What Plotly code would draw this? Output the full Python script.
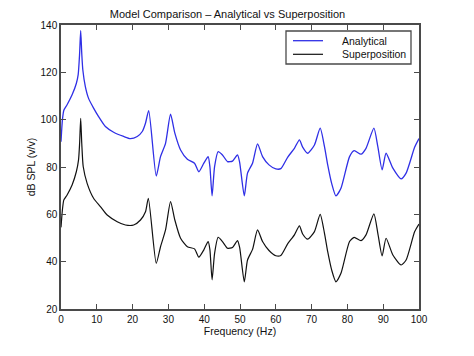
import plotly.graph_objects as go

# ---- data ----
freq_analytical = [0, 0.4, 0.8, 1.7, 3.1, 4.3, 4.8, 5.2, 5.5, 5.8, 6.1, 6.8, 7.7, 9.1, 10.5,
                   12.4, 14.7, 17.5, 19.4, 21.3, 22.7, 23.6, 24.5, 26.6, 27.8, 29.2, 30.6,
                   31.8, 33.4, 35.3, 37.3, 38.5, 39.9, 41.1, 41.6, 42.2, 42.9, 43.9, 45.1,
                   46.5, 47.9, 49.3, 49.9, 51.2, 52.1, 53.5, 54.9, 56.3, 58.1, 60, 61.4,
                   63.3, 65.2, 66.6, 67.5, 68.9, 70.8, 72.4, 73.6, 74.5, 75.6, 76.8, 78.2,
                   80.6, 81.9, 83.8, 85.2, 87.4, 88.5, 89.7, 90.8, 92.7, 95, 96.4, 98.8, 100]
spl_analytical = [90.7, 100, 104, 106.3, 110.5, 115.4, 119, 128, 137.7, 128, 121, 114, 109,
                  104.9, 101.3, 97.1, 94.7, 92.9, 92, 92.9, 95, 98.5, 103.8, 76.2, 84.4, 90,
                  102.3, 94.3, 87.2, 83.3, 81.6, 78, 81.6, 84.4, 80, 67.8, 80.2, 86.5, 85.1,
                  82.3, 82.5, 85.1, 82, 67.8, 77.4, 81.6, 89.8, 84.4, 80.9, 79.2, 79.3, 84.1,
                  87.9, 91.5, 88.4, 85.8, 89.3, 96.4, 88.6, 80.9, 73.1, 67.8, 71, 84.4, 86.9,
                  85.4, 87.9, 96.4, 88.6, 78.8, 85.8, 79.5, 75, 77.4, 88.4, 92]

freq_superposition = [0, 0.4, 0.8, 1.7, 3.1, 4.3, 4.9, 5.2, 5.5, 5.8, 6.2, 7.3, 9.1, 11,
                      12.9, 15.7, 18, 20.3, 22.2, 23.6, 24.4, 26.6, 27.8, 29.2, 30.6, 31.8,
                      33.4, 35.3, 37.3, 38.5, 39.9, 41.1, 41.6, 42.2, 42.9, 43.9, 45.1, 46.5,
                      47.9, 49.3, 49.9, 51.2, 52.1, 53.5, 54.9, 56.3, 58.1, 60, 61.4, 63.3,
                      65.2, 66.6, 67.5, 68.9, 70.8, 72.4, 73.6, 74.5, 75.6, 76.8, 78.2, 80.6,
                      81.9, 83.8, 85.2, 87.4, 88.5, 89.7, 90.8, 92.7, 95, 96.4, 98.8, 100]
spl_superposition = [54.5, 62, 66.1, 68.2, 72.4, 78.1, 83, 90, 100.6, 90, 80.2, 73.1, 66.8,
                     63.3, 59.7, 56.9, 55.5, 55.5, 57.6, 61.1, 66.8, 39.3, 46.3, 53.4, 65.4,
                     57.6, 49.9, 46.3, 45.4, 41.9, 45, 48.5, 45, 32.3, 43.5, 50.3, 48.5, 45.7,
                     46, 48.9, 46, 31.5, 40.7, 45.2, 53.4, 48.5, 44.7, 42.5, 42.6, 47.5, 51.3,
                     55.1, 51.7, 49.5, 52.7, 60, 52, 44.2, 36.5, 31.5, 35.1, 48.5, 50.3, 48.9,
                     51.3, 60.2, 52, 42.4, 49.9, 42.8, 38.6, 40.7, 52.7, 55.9]

series_names = ["Analytical", "Superposition"]
x_ticks = [0, 10, 20, 30, 40, 50, 60, 70, 80, 90, 100]
y_ticks = [20, 40, 60, 80, 100, 120, 140]

BLUE = "#2f2fe6"
BLACK = "#111111"
AXIS = "#4a4a4a"
FONT = "Liberation Sans, Arial, sans-serif"

# page body has an 8px default margin: work in screen pixels, convert to figure pixels
OFF = 8
W, H = 474 - OFF, 356 - OFF
# target plot area in screen pixels: x 61..419, y 25..309
ML, MT = 61 - OFF, 25 - OFF
MR, MB = W - (419 - OFF), H - (309 - OFF)
PW, PH = W - ML - MR, H - MT - MB


def px(x):
    """screen x pixel -> paper fraction"""
    return (x - OFF - ML) / PW


def py(y):
    """screen y pixel -> paper fraction"""
    return (H - MB - (y - OFF)) / PH


fig = go.Figure()
fig.add_trace(go.Scatter(x=freq_analytical, y=spl_analytical, mode="lines",
                         name=series_names[0],
                         line=dict(color=BLUE, width=1.3, shape="spline", smoothing=0.6),
                         showlegend=False))
fig.add_trace(go.Scatter(x=freq_superposition, y=spl_superposition, mode="lines",
                         name=series_names[1],
                         line=dict(color=BLACK, width=1.2, shape="spline", smoothing=0.6),
                         showlegend=False))

axis_common = dict(showline=True, linecolor=AXIS, linewidth=1.5, mirror="ticks",
                   ticks="inside", ticklen=5, tickcolor=AXIS, tickwidth=1,
                   showgrid=False, zeroline=False, automargin=False,
                   tickfont=dict(family=FONT, size=10, color="#111"))

fig.update_xaxes(range=[0, 100], tickvals=x_ticks, ticktext=[str(v) for v in x_ticks],
                 title=dict(text="Frequency (Hz)", font=dict(family=FONT, size=10.5, color="#111"),
                            standoff=4),
                 ticklabelstandoff=0,
                 **axis_common)
fig.update_yaxes(range=[20, 140], tickvals=y_ticks, ticktext=[str(v) for v in y_ticks],
                 title=dict(text="dB SPL (v/v)", font=dict(family=FONT, size=10.5, color="#111"),
                            standoff=3),
                 ticklabelstandoff=0,
                 **axis_common)

# manual legend (box, line samples, labels) positioned in screen pixels
shapes = [
    dict(type="rect", xref="paper", yref="paper", x0=px(286), x1=px(411), y0=py(64), y1=py(31),
         line=dict(color=AXIS, width=1.3), fillcolor="white", layer="above"),
    dict(type="line", xref="paper", yref="paper", x0=px(293), x1=px(323), y0=py(40.7), y1=py(40.7),
         line=dict(color=BLUE, width=1.3), layer="above"),
    dict(type="line", xref="paper", yref="paper", x0=px(293), x1=px(323), y0=py(54.3), y1=py(54.3),
         line=dict(color=BLACK, width=1.2), layer="above"),
]
annotations = [
    dict(text=series_names[0], xref="paper", yref="paper", x=px(340), y=py(41), xanchor="left",
         yanchor="middle", showarrow=False, font=dict(family=FONT, size=10.5, color="#111")),
    dict(text=series_names[1], xref="paper", yref="paper", x=px(340), y=py(53.5), xanchor="left",
         yanchor="middle", showarrow=False, font=dict(family=FONT, size=10.5, color="#111")),
]

fig.update_layout(
    width=W, height=H,
    margin=dict(l=ML, r=MR, t=MT, b=MB, autoexpand=False),
    paper_bgcolor="white", plot_bgcolor="white",
    title=dict(text="Model Comparison \u2013 Analytical vs Superposition",
               x=(227.5 - OFF) / W, xref="container", xanchor="center",
               y=1 - (14.5 - OFF) / H, yref="container", yanchor="middle",
               font=dict(family=FONT, size=11, color="#111")),
    shapes=shapes, annotations=annotations,
    showlegend=False,
)

fig.write_html("out.html")
